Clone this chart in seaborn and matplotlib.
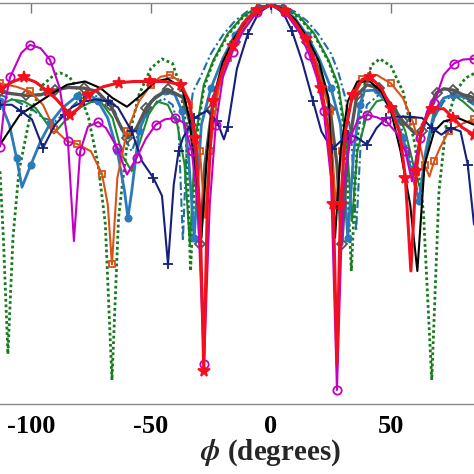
import numpy as np
import pandas as pd
import matplotlib
matplotlib.use("Agg")
import matplotlib.pyplot as plt
import seaborn as sns

# beam pattern readings: angle (degrees) and level (dB)
mag_x = [-112.9, -111, -108.75, -104, -100.4, -96, -92.1, -88, -84.6, -82.1, -79.5, -76.25, -72, -68.75,
         -64, -60, -56, -52.1, -48, -44.2, -40, -36.25, -33, -30.5, -27.9, -25.5, -23, -20, -16, -11.7,
         -6, 0, 6, 12, 16, 19.2, 22, 25, 27.5, 30, 33, 36.25, 40, 44.2, 48, 52.5, 56, 58.75, 62, 65,
         67.9, 72, 76.25, 80, 84.6]
mag_y = [-21.3, -15, -10.9, -7.2, -6.0, -6.5, -8.2, -12.5, -20.5, -35.5, -22, -18.3, -17.6, -18.5,
         -21.5, -25.5, -23, -20.1, -18, -17.2, -17, -17.7, -22, -30, -54, -30, -18, -10.8, -7, -4.0,
         -1.1, 0, -1.1, -4.2, -7.5, -11.0, -16, -26, -57.9, -28, -20, -17.2, -16.5, -16.9, -17.5, -19.3,
         -22, -26.5, -20, -16, -14.8, -10.5, -8.8, -8.2, -8.1]

red_x = [-112.9, -108, -103, -98, -93, -89.6, -83.75, -80, -76.25, -70, -63.3, -57, -50.4, -44, -37.5,
         -34, -31.5, -29.5, -28, -26.5, -24.2, -20, -16, -11.7, -6, 0, 6, 10, 14.6, 18, 21, 24, 26,
         27.5, 29, 31, 34, 38, 41.25, 46, 50, 53.75, 56, 58.3, 60.5, 63, 67, 72, 76, 79.6, 84.6]
red_y = [-12.7, -11.6, -10.9, -11.6, -13, -14.1, -16.5, -15.5, -13.5, -12.3, -11.7, -11.5, -11.5, -11.5,
         -12, -14.5, -20, -32, -55, -30, -14.4, -9.5, -6.2, -2.8, -0.8, 0, -0.9, -2.6, -5.1, -8.5, -12.5,
         -19, -30, -54, -30, -19, -13.5, -11.2, -10.8, -12.5, -15.5, -19.4, -26, -40, -25, -18, -15.6,
         -15.6, -17, -18.4, -19.5]

gd_x = [-112.9, -111.5, -109.6, -107.5, -105, -100, -95, -90, -87.9, -84, -80, -76, -72, -69, -66.25,
        -63.5, -60, -55, -50, -45.4, -41, -38, -35.5, -33.5, -31, -28, -24, -18, -12, -6, 0, 6, 12, 18,
        24, 28, 31, 33.5, 36, 39, 42, 45.4, 50, 55, 60, 63.5, 67, 70, 73, 77, 81, 84.6]
gd_y = [-25, -35, -52.5, -35, -25, -16, -12, -10.4, -10.2, -10.8, -13, -17, -24, -33, -56.4,
        -32, -21, -13.5, -9.5, -8.1, -8.8, -12, -18, -40, -20, -12.5, -8.5, -4.5, -2, -0.5, 0, -0.5, -2,
        -4.5, -8.5, -12.5, -20, -40, -20, -12, -9, -8.1, -9.2, -13, -21, -31, -56.4, -28, -18, -13,
        -11, -10.3]

blk_x = [-112.9, -104.6, -92, -85, -77.5, -71, -66, -60, -54, -48, -43, -37, -34, -31.5, -29, -26.5,
         -24, -20, -15, -10, -5, 0, 5, 10, 15, 20, 24, 26.7, 29, 32, 36, 41.25, 46, 50, 54, 58, 61, 64,
         68, 72, 78, 84.6]
blk_y = [-21, -16.5, -13.5, -12, -11.5, -12.5, -14, -15.3, -13.5, -11.5, -11.1, -12.5, -17, -26, -35,
         -22, -14, -8.5, -4.8, -2.2, -0.6, 0, -0.6, -2.2, -4.8, -8.5, -14, -35, -22, -14.5, -11.5, -11.5,
         -13, -16, -22, -30, -40, -24, -19, -17.5, -17, -18]

org_x = [-112.9, -106, -100.4, -95, -90.4, -85, -80.8, -75, -70.4, -68, -66.25, -64, -60, -55, -50, -46,
         -42, -38, -34, -31, -29.6, -27.5, -25.5, -22, -18, -12, -6, 0, 6, 12, 18, 22, 24.5, 27, 29.5,
         33, 38, 44, 50, 55, 59, 62, 64, 66, 68, 70.4, 74, 80, 84.6]
org_y = [-11.8, -12.3, -13, -15, -18.6, -20.5, -20.9, -22, -25.4, -30, -39, -26, -19, -14.5, -12, -10.8,
         -10.5, -11.5, -15, -20, -22, -32, -22, -13, -8, -3.5, -0.9, 0, -0.9, -3.5, -8, -12.5, -16, -30,
         -22, -15, -11.2, -10.5, -11.8, -14, -17.5, -21, -24, -25.8, -23.5, -21.5, -19, -17.8, -17.2]

gry_x = [-112.9, -108.75, -102, -96, -90, -84.6, -78, -72.5, -67, -63, -60, -56, -52, -48.3, -43, -36.7,
         -33.5, -31, -29.5, -27.5, -24.6, -20, -15, -10, -5, 0, 5, 10, 15, 20, 24.6, 27.5, 29.5, 32,
         35.8, 40, 45, 50, 55, 60, 63, 66, 69, 72, 76, 80, 83.3, 84.6]
gry_y = [-13, -13.3, -13.6, -13.5, -12.8, -12.4, -12.5, -13, -15, -18, -20, -18.5, -15.5, -13.9, -12.7,
         -13.9, -18, -26, -36, -24, -15.7, -9.8, -5.5, -2.5, -0.6, 0, -0.6, -2.5, -5.5, -9.8, -15.6, -24,
         -36, -22, -13.6, -12, -12.5, -15, -17.5, -19.3, -19, -15.5, -13.2, -12.6, -12.8, -13.5, -13.8,
         -14]

sb_x = [-112.9, -109, -106, -103.75, -100, -96, -92, -87, -80.8, -76, -72, -68, -64, -61, -59.6, -58,
        -55, -50, -44, -40, -37, -34.5, -32, -29, -25, -20, -15, -10, -5, 0, 5, 10, 15, 20, 25, 29, 32,
        34.5, 37, 39, 44, 50, 55, 58.5, 61.7, 64.5, 68, 72, 76, 80, 84.6]
sb_y = [-14.5, -18, -23, -27.4, -24, -20.5, -17.8, -15.5, -13.7, -13.3, -14.5, -17, -22, -28, -32, -28,
        -19, -14.5, -13, -13.5, -16, -22, -35, -18, -12.5, -8, -4.5, -2, -0.5, 0, -0.5, -2, -4.5, -8,
        -12.5, -18, -35, -22, -15, -12.9, -12.8, -15.5, -20, -25, -29.5, -22, -16, -14, -13.5, -13.8,
        -14.5]

nv_x = [-112.9, -108, -104, -99.6, -95, -90, -86, -83, -78, -73, -68, -63.75, -58, -53.75, -49, -45.4,
        -42.9, -40.5, -38.5, -36.7, -32, -26.7, -22.5, -19.6, -18, -14.2, -9.6, -5, 0, 5, 8.75, 13, 17.5,
        21, 25.4, 29, 32, 35.8, 40, 44, 48, 52.5, 58, 63, 67, 71, 75, 79, 82, 84.6]
nv_y = [-15, -15, -16, -17.2, -21.5, -18, -16.5, -15.4, -14.5, -14.2, -14.5, -15.4, -19, -23.5, -26,
        -28.7, -39, -27, -22, -20, -17, -15.9, -17.5, -20.2, -18.3, -9.6, -4.3, -1.1, 0, -1.1, -3.9, -8.5,
        -14.4, -19, -21.7, -20.5, -19.5, -19.9, -21, -18.5, -17, -16.8, -16.8, -17, -18.5, -19.5, -18.5,
        -19, -24, -33]

gs_x = [-112.9, -108, -103, -98, -94, -90.4, -86, -80, -75, -71, -66, -61.7, -58, -55, -51, -47.5, -43,
        -39, -36, -33.75, -31.5, -28, -24, -18, -12, -6, 0, 6, 12, 18, 24, 28, 31.5, 33.75, 36, 40, 44,
        47, 52, 56, 60, 62.5, 65, 68, 72, 76, 80, 84.6]
gs_y = [-15, -14.2, -14.5, -15.5, -17.5, -19.3, -17.5, -15.5, -14.6, -14.5, -17, -22.8, -25, -21, -16.5,
        -14.5, -15, -18, -24, -36, -20, -12, -8.3, -4.3, -1.8, -0.4, 0, -0.4, -1.8, -4.3, -8.3, -12, -20,
        -32.5, -22, -16.5, -14.5, -14.2, -15.5, -19, -25, -28, -22, -16.5, -14, -13.5, -14.5, -16]

bd_x = [-112.9, -106, -100, -95, -90, -85, -80, -75, -70, -65, -61, -58, -54, -50, -45, -41, -38.5,
        -36.7, -35, -32.5, -29.6, -25, -20, -15, -10, -5, 0, 5, 10, 15, 20, 25, 28, 31, 33.5, 35.5, 37.5,
        40, 45, 50, 54, 58, 62, 65, 68, 72, 76, 80, 84.6]
bd_y = [-13.5, -14.5, -15.5, -17, -17.5, -16, -14.3, -13.5, -14, -16, -20, -22, -18, -15.5, -14, -15,
        -18.5, -35.5, -20, -13, -11, -7.3, -4.5, -2.4, -1.0, -0.25, 0, -0.25, -1.0, -2.4, -4.5, -7.3, -10,
        -14, -20, -34, -20, -15, -13.5, -15, -18, -23, -29.5, -22, -17, -14.5, -13.5, -14, -15]

sns.set_style("white")
plt.rcParams["font.family"] = ["Liberation Serif", "DejaVu Serif"]
plt.rcParams["font.weight"] = "bold"
plt.rcParams["mathtext.fontset"] = "stix"
plt.rcParams["axes.unicode_minus"] = False

fig = plt.figure(figsize=(4.74, 4.74), dpi=100)
ax = fig.add_axes([0, 1 - 404 / 474, 1, 401 / 474])

# (x, y, colour, linestyle, linewidth, marker, marker size, filled)
series = [
    (bd_x, bd_y, "#1f6fa3", (0, (4, 1.5, 1, 1.5)), 1.5, None, 0, False),
    (gs_x, gs_y, "#1e8a2e", "-", 1.5, None, 0, False),
    (gd_x, gd_y, "#177a1d", (0, (1, 1)), 2.0, None, 0, False),
    (sb_x, sb_y, "#2b7bba", "-", 2.0, "o", 4.5, True),
    (gry_x, gry_y, "#555555", "-", 2.4, "D", 5.5, False),
    (org_x, org_y, "#d95319", "-", 1.5, "s", 4.5, False),
    (blk_x, blk_y, "black", "-", 1.5, None, 0, False),
    (nv_x, nv_y, "#14207a", "-", 1.5, "+", 7, True),
    (mag_x, mag_y, "#c400c4", "-", 1.5, "o", 6, False),
    (red_x, red_y, "#f2101e", "-", 2.2, "*", 8.5, True),
]

for xs, ys, col, ls, lw, mk, ms, filled in series:
    df = pd.DataFrame({"phi": xs, "gain": ys})
    kw = {}
    if mk is not None:
        kw = dict(marker=mk, markevery=2, markersize=ms, markeredgecolor=col,
                  markeredgewidth=1.3, markerfacecolor=col if filled else "none")
    sns.lineplot(data=df, x="phi", y="gain", color=col, linestyle=ls, linewidth=lw,
                 sort=False, estimator=None, ax=ax, **kw)

ax.set_xlim(-112.9, 84.6)
ax.set_ylim(-60, 0.3)
ax.set_xticks([-100, -50, 0, 50])
ax.set_yticks([])
ax.tick_params(axis="x", direction="in", length=7, width=1, top=True, colors="#777777",
               labelcolor="black", labelsize=19, pad=8)
for s in ["left", "right"]:
    ax.spines[s].set_visible(False)
for s in ["top", "bottom"]:
    ax.spines[s].set_color("#888888")
    ax.spines[s].set_linewidth(1.0)
ax.set_ylabel("")
ax.set_xlabel(r"$\phi$ (degrees)", fontsize=21, fontweight="bold", labelpad=1)
ax.xaxis.set_label_coords(271 / 474, -0.083)

fig.savefig("out.png", dpi=100)
